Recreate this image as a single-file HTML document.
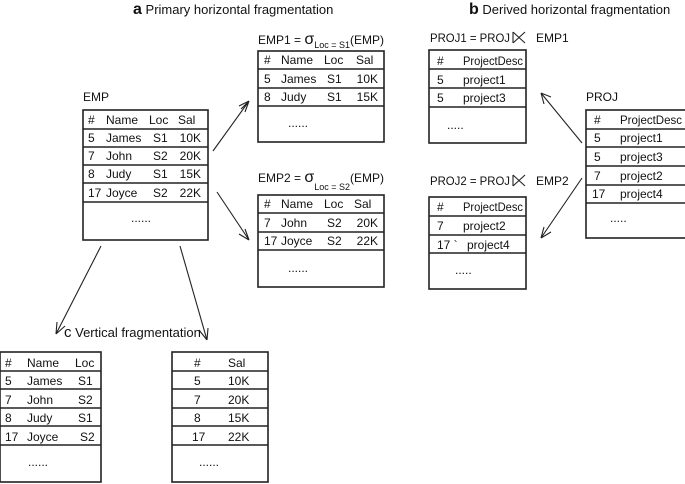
<!DOCTYPE html>
<html><head><meta charset="utf-8"><style>
body{margin:0;background:#fff}
svg{display:block}
text{font-family:"Liberation Sans",sans-serif;font-size:12px;fill:#111}
.t{font-size:13px}
</style></head><body>
<svg width="685" height="484" viewBox="0 0 685 484" xmlns="http://www.w3.org/2000/svg">
<g stroke="#222" stroke-width="1.6" fill="none">
<rect x="83" y="110" width="125" height="130"/>
<line x1="83" y1="129" x2="208" y2="129"/><line x1="83" y1="147" x2="208" y2="147"/><line x1="83" y1="165" x2="208" y2="165"/><line x1="83" y1="183" x2="208" y2="183"/><line x1="83" y1="202" x2="208" y2="202"/>
<rect x="258" y="51" width="126" height="91"/>
<line x1="258" y1="69" x2="384" y2="69"/><line x1="258" y1="88" x2="384" y2="88"/><line x1="258" y1="106" x2="384" y2="106"/>
<rect x="258" y="195" width="126" height="92"/>
<line x1="258" y1="213" x2="384" y2="213"/><line x1="258" y1="232" x2="384" y2="232"/><line x1="258" y1="250" x2="384" y2="250"/>
<rect x="429" y="50" width="97" height="93"/>
<line x1="429" y1="69" x2="526" y2="69"/><line x1="429" y1="88" x2="526" y2="88"/><line x1="429" y1="107" x2="526" y2="107"/>
<rect x="429" y="197" width="97" height="92"/>
<line x1="429" y1="216" x2="526" y2="216"/><line x1="429" y1="235" x2="526" y2="235"/><line x1="429" y1="253" x2="526" y2="253"/>
<rect x="586" y="110" width="100" height="128"/>
<line x1="586" y1="129" x2="686" y2="129"/><line x1="586" y1="147" x2="686" y2="147"/><line x1="586" y1="166" x2="686" y2="166"/><line x1="586" y1="185" x2="686" y2="185"/><line x1="586" y1="203" x2="686" y2="203"/>
<rect x="0" y="352" width="101" height="130"/>
<line x1="0" y1="371" x2="101" y2="371"/><line x1="0" y1="389" x2="101" y2="389"/><line x1="0" y1="408" x2="101" y2="408"/><line x1="0" y1="426" x2="101" y2="426"/><line x1="0" y1="445" x2="101" y2="445"/>
<rect x="172" y="352" width="96" height="130"/>
<line x1="172" y1="371" x2="268" y2="371"/><line x1="172" y1="389" x2="268" y2="389"/><line x1="172" y1="408" x2="268" y2="408"/><line x1="172" y1="426" x2="268" y2="426"/><line x1="172" y1="445" x2="268" y2="445"/>
</g>
<g stroke="#222" stroke-width="1.1" fill="none">
<path d="M213 151 L249 101 M249 101 L239 106 M249 101 L245 112 M247 103 L241 109"/>
<path d="M217 192 L249 240 M249 240 L245 229 M249 240 L239 234"/>
<path d="M582 143 L541 93 M541 93 L551 97 M541 93 L544 104"/>
<path d="M582 178 L541 238 M541 238 L544 227 M541 238 L551 232"/>
<path d="M101 246 L56 334 M56 334 L57 322 M56 334 L65 326"/>
<path d="M180 246 L207 340 M207 340 L199 330 M207 340 L208 328"/>
<path d="M513 32 L513 43 M513 32 L525 43 M513 43 L525 32"/>
<path d="M513 175 L513 186 M513 175 L525 186 M513 186 L525 175"/>
</g>
<text class="t" x="133" y="14"><tspan font-weight="bold" font-size="16">a</tspan>  Primary horizontal fragmentation</text>
<text class="t" x="469" y="14"><tspan font-weight="bold" font-size="16">b</tspan>  Derived horizontal fragmentation</text>
<text class="t" x="64" y="337"><tspan font-size="15">c</tspan>  Vertical fragmentation</text>
<text x="83" y="101">EMP</text>
<g>
<text x="88" y="124">#</text><text x="106" y="124">Name</text><text x="149" y="124">Loc</text><text x="178" y="124">Sal</text>
<text x="88" y="142">5</text><text x="106" y="142">James</text><text x="153" y="142">S1</text><text x="201" y="142" text-anchor="end">10K</text>
<text x="88" y="160">7</text><text x="106" y="160">John</text><text x="153" y="160">S2</text><text x="201" y="160" text-anchor="end">20K</text>
<text x="88" y="178">8</text><text x="106" y="178">Judy</text><text x="153" y="178">S1</text><text x="201" y="178" text-anchor="end">15K</text>
<text x="88" y="197">17</text><text x="106" y="197">Joyce</text><text x="153" y="197">S2</text><text x="201" y="197" text-anchor="end">22K</text>
<text x="131" y="222">......</text>
</g>
<text x="258" y="44">EMP1 = <tspan font-size="16">σ</tspan><tspan font-size="9" dy="4">Loc = S1</tspan><tspan dy="-4">(EMP)</tspan></text>
<text x="264" y="64">#</text><text x="281" y="64">Name</text><text x="324" y="64">Loc</text><text x="356" y="64">Sal</text>
<text x="264" y="83">5</text><text x="281" y="83">James</text><text x="327" y="83">S1</text><text x="378" y="83" text-anchor="end">10K</text>
<text x="264" y="101">8</text><text x="281" y="101">Judy</text><text x="327" y="101">S1</text><text x="378" y="101" text-anchor="end">15K</text>
<text x="288" y="127">......</text>
<text x="258" y="182">EMP2 = <tspan font-size="16">σ</tspan><tspan font-size="9" dy="8">Loc = S2</tspan><tspan dy="-8">(EMP)</tspan></text>
<text x="264" y="208">#</text><text x="281" y="208">Name</text><text x="324" y="208">Loc</text><text x="354" y="208">Sal</text>
<text x="264" y="227">7</text><text x="281" y="227">John</text><text x="327" y="227">S2</text><text x="378" y="227" text-anchor="end">20K</text>
<text x="264" y="245">17</text><text x="281" y="245">Joyce</text><text x="327" y="245">S2</text><text x="378" y="245" text-anchor="end">22K</text>
<text x="288" y="272">......</text>
<text x="430" y="42" textLength="80" lengthAdjust="spacingAndGlyphs">PROJ1 = PROJ</text><text x="536" y="42">EMP1</text>
<text x="437" y="65">#</text><text x="463" y="65" textLength="60" lengthAdjust="spacingAndGlyphs">ProjectDesc</text>
<text x="437" y="84">5</text><text x="463" y="84">project1</text>
<text x="437" y="102">5</text><text x="463" y="102">project3</text>
<text x="447" y="129">.....</text>
<text x="430" y="185" textLength="80" lengthAdjust="spacingAndGlyphs">PROJ2 = PROJ</text><text x="536" y="185">EMP2</text>
<text x="437" y="211">#</text><text x="463" y="211" textLength="60" lengthAdjust="spacingAndGlyphs">ProjectDesc</text>
<text x="437" y="230">7</text><text x="463" y="230">project2</text>
<text x="437" y="249">17 `</text><text x="467" y="249">project4</text>
<text x="455" y="274">.....</text>
<text x="586" y="101">PROJ</text>
<text x="594" y="124">#</text><text x="620" y="124" textLength="62" lengthAdjust="spacingAndGlyphs">ProjectDesc</text>
<text x="594" y="142">5</text><text x="620" y="142">project1</text>
<text x="594" y="161">5</text><text x="620" y="161">project3</text>
<text x="594" y="180">7</text><text x="620" y="180">project2</text>
<text x="592" y="198">17</text><text x="620" y="198">project4</text>
<text x="610" y="222">.....</text>
<text x="5" y="367">#</text><text x="27" y="367">Name</text><text x="75" y="367">Loc</text>
<text x="5" y="385">5</text><text x="27" y="385">James</text><text x="78" y="385">S1</text>
<text x="5" y="404">7</text><text x="27" y="404">John</text><text x="78" y="404">S2</text>
<text x="5" y="422">8</text><text x="27" y="422">Judy</text><text x="78" y="422">S1</text>
<text x="5" y="441">17</text><text x="27" y="441">Joyce</text><text x="80" y="441">S2</text>
<text x="28" y="466">......</text>
<text x="194" y="367">#</text><text x="228" y="367">Sal</text>
<text x="194" y="385">5</text><text x="228" y="385">10K</text>
<text x="194" y="404">7</text><text x="228" y="404">20K</text>
<text x="194" y="422">8</text><text x="228" y="422">15K</text>
<text x="192" y="441">17</text><text x="228" y="441">22K</text>
<text x="199" y="466">......</text>
</svg>
</body></html>
